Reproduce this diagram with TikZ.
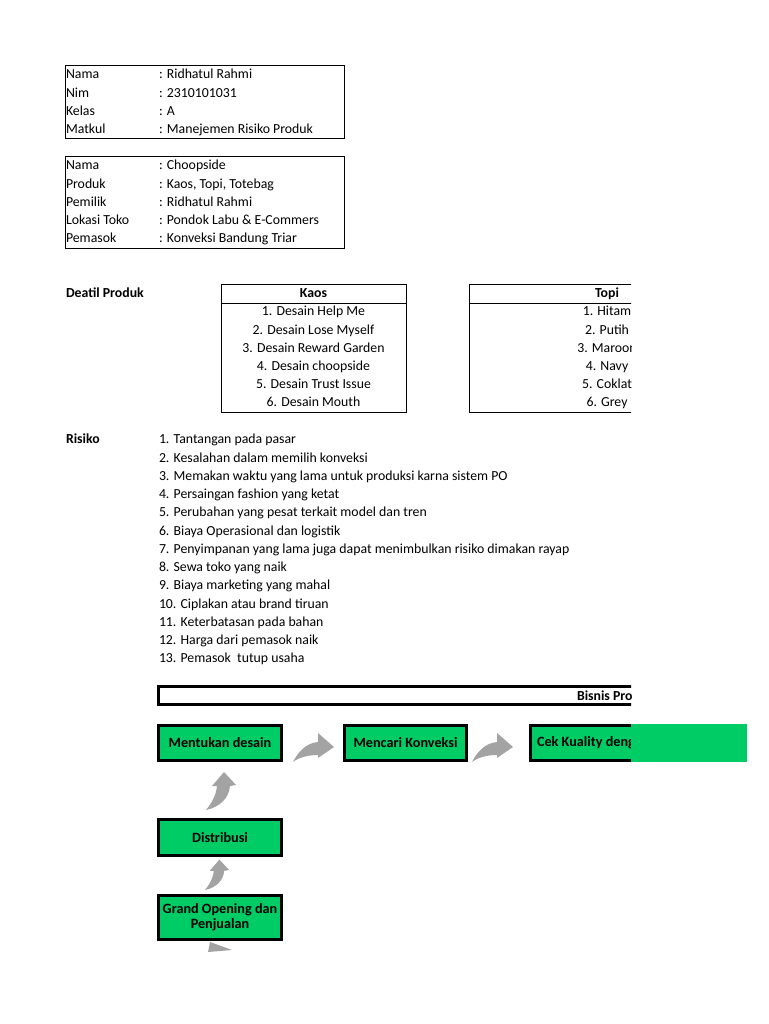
\documentclass[tikz,border=0pt]{standalone}
\usepackage{fontspec}
\setmainfont{Carlito}
\usetikzlibrary{calc}
\definecolor{flowgreen}{RGB}{0,204,102}
\definecolor{arrowgray}{RGB}{163,163,163}
\begin{document}
\begin{tikzpicture}[x=1pt,y=-1pt,
  every node/.style={font=\fontsize{13.8}{16}\selectfont, inner sep=0pt, outer sep=0pt},
  txt/.style={anchor=west, text height=8.9pt, text depth=0pt},
  ctxt/.style={anchor=center, text height=8.9pt, text depth=0pt},
  btxt/.style={txt, font=\fontsize{13.8}{16}\selectfont\bfseries},
  bctxt/.style={ctxt, font=\fontsize{13.8}{16}\selectfont\bfseries},
  thinbox/.style={draw=black, line width=0.8pt},
  flowbox/.style={draw=black, line width=3pt, fill=flowgreen, outer sep=1.5pt,
    font=\fontsize{14.2}{15}\selectfont\bfseries, align=center},
  grayarrow/.style={fill=arrowgray}
]
\useasboundingbox (0,0) rectangle (768,1024);
\fill[white] (0,0) rectangle (768,1024);

% ---------- box 1 ----------
\draw[thinbox] (65,65) rectangle (344,138);
\foreach \lab/\val [count=\i] in {Nama/{: Ridhatul Rahmi},Nim/{: 2310101031},Kelas/{: A},Matkul/{: Manejemen Risiko Produk}}{
  \node[txt] (ia\i) at (66,{74.5+(\i-1)*18.1}) {\lab};
  \node[txt] (ib\i) at (159,{74.5+(\i-1)*18.1}) {\val};
}
% ---------- box 2 ----------
\draw[thinbox] (65,156) rectangle (344,248);
\foreach \lab/\val [count=\i] in {Nama/{: Choopside},Produk/{: Kaos, Topi, Totebag},Pemilik/{: Ridhatul Rahmi},Lokasi Toko/{: Pondok Labu \& E-Commers},Pemasok/{: Konveksi Bandung Triar}}{
  \node[txt] (sa\i) at (66,{165.5+(\i-1)*18.2}) {\lab};
  \node[txt] (sb\i) at (159,{165.5+(\i-1)*18.2}) {\val};
}

% ---------- detail produk ----------
\node[btxt] (detail) at (66,293.5) {Deatil Produk};
\draw[thinbox] (221,284) rectangle (406,412);
\draw[thinbox] (221,303) -- (406,303);
\node[bctxt] (kaos) at (313.5,293.5) {Kaos};
\foreach \t [count=\i] in {1. Desain Help Me,2. Desain Lose Myself,3. Desain Reward Garden,4. Desain choopside,5. Desain Trust Issue,6. Desain Mouth}{
  \node[ctxt] (k\i) at (313.5,{311.5+(\i-1)*18.2}) {\t};
}

\begin{scope}
\clip (0,0) rectangle (631,952);
% Topi table
\draw[thinbox] (760,284) -- (469,284) -- (469,412) -- (760,412);
\draw[thinbox] (469,303) -- (760,303);
\node[bctxt] (topi) at (607,293.5) {Topi};
\foreach \t [count=\i] in {1. Hitam,2. Putih,3. Maroon,4. Navy,5. Coklat,6. Grey}{
  \node[ctxt] (t\i) at (607,{311.5+(\i-1)*18.2}) {\t};
}
% title bar
\draw[draw=black, line width=3pt] (158.5,686.5) rectangle (760,704.5);
\node[btxt] (title) at (577,696) {Bisnis Proses};
% flow boxes
\node[flowbox, minimum width=123pt, minimum height=35pt] (m1) at (220,743) {Mentukan desain};
\node[flowbox, minimum width=122pt, minimum height=35pt] (m2) at (405.5,743) {Mencari Konveksi};
\node[flowbox, minimum width=123pt, minimum height=35pt] (m3) at (592,743) {};
\node[btxt, font=\fontsize{14.2}{15}\selectfont\bfseries] (m3t) at (537,742) {Cek Kuality dengan};
\node[flowbox, minimum width=123pt, minimum height=36pt] (d) at (220,837.5) {Distribusi};
\node[flowbox, minimum width=123pt, minimum height=44pt] (g) at (220,917.5) {Grand Opening dan\\Penjualan};

% curved block arrows
\begin{scope}[shift={(m1.south east)}, xshift=10pt]
  \fill[grayarrow] (0,0) .. controls (5,-10) and (13,-19) .. (25,-20) -- (25,-29) -- (41,-15) -- (25,-4) -- (25,-7) .. controls (14,-7) and (5,-4) .. (0,0) -- cycle;
\end{scope}
\begin{scope}[shift={(m2.south east)}, xshift=4pt]
  \fill[grayarrow] (0,0) .. controls (5,-10) and (13,-19) .. (25,-20) -- (25,-29) -- (41,-15) -- (25,-4) -- (25,-7) .. controls (14,-7) and (5,-4) .. (0,0) -- cycle;
\end{scope}
\begin{scope}[shift={(d.north west)}, xshift=49pt, yshift=8pt]
  \fill[grayarrow] (0,0) .. controls (5,-6) and (10,-14) .. (11,-24) -- (6,-24) -- (18,-38) -- (30,-25) -- (24,-24) .. controls (23,-12) and (14,-3) .. (0,0) -- cycle;
\end{scope}
\begin{scope}[shift={(g.north west)}, xshift=48pt, yshift=4pt, scale=0.8]
  \fill[grayarrow] (0,0) .. controls (5,-6) and (10,-14) .. (11,-24) -- (6,-24) -- (18,-38) -- (30,-25) -- (24,-24) .. controls (23,-12) and (14,-3) .. (0,0) -- cycle;
\end{scope}
\fill[grayarrow] ($(g.south west)+(53,1)$) -- ($(g.south west)+(51,11)$) -- ($(g.south west)+(75,9)$) -- cycle;
\end{scope}

% green block past the cut
\fill[flowgreen] (631,724) rectangle (747,762);

% ---------- risiko ----------
\node[btxt] (risiko) at (66,439.5) {Risiko};
\foreach \t [count=\i] in {1. Tantangan pada pasar,2. Kesalahan dalam memilih konveksi,3. Memakan waktu yang lama untuk produksi karna sistem PO,4. Persaingan fashion yang ketat,5. Perubahan yang pesat terkait model dan tren,6. Biaya Operasional dan logistik,7. Penyimpanan yang lama juga dapat menimbulkan risiko dimakan rayap,8. Sewa toko yang naik,9. Biaya marketing yang mahal,10. Ciplakan atau brand tiruan,11. Keterbatasan pada bahan,12. Harga dari pemasok naik,13. Pemasok\ \ tutup usaha}{
  \node[txt] (r\i) at (159,{439.5+(\i-1)*18.25}) {\t};
}
\end{tikzpicture}
\end{document}
